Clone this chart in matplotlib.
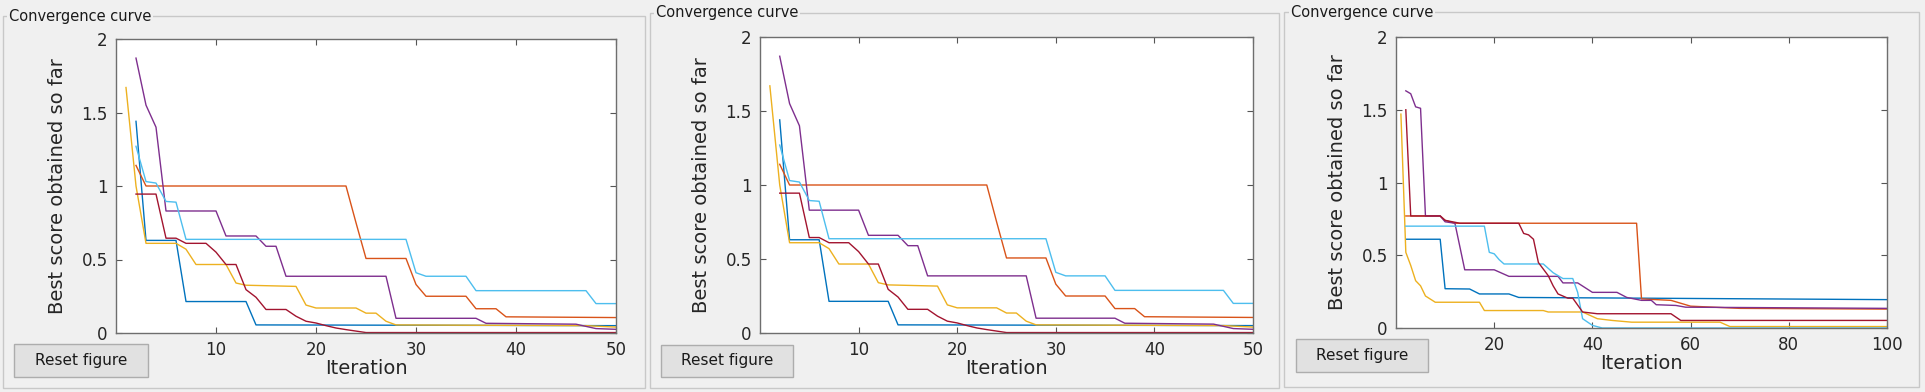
import matplotlib
matplotlib.use("Agg")
import matplotlib.pyplot as plt
from matplotlib.patches import Rectangle

# ---- data: best score per iteration (breakpoints) ----
# panel 1 / panel 2 (50 iterations)
p1_blue_it = [2, 3, 6, 7, 13, 14, 50]
p1_blue = [1.44, 0.63, 0.63, 0.214, 0.214, 0.055, 0.05]
p1_orange_it = [2, 3, 23, 24, 25, 29, 30, 31, 35, 36, 38, 39, 50]
p1_orange = [1.14, 1.0, 1.0, 0.75, 0.507, 0.507, 0.33, 0.25, 0.25, 0.165, 0.165, 0.11, 0.105]
p1_yellow_it = [1, 2, 3, 6, 7, 8, 11, 12, 13, 18, 19, 20, 24, 25, 26, 27, 28, 47, 50]
p1_yellow = [1.67, 1.0, 0.61, 0.61, 0.57, 0.466, 0.466, 0.34, 0.325, 0.317, 0.19, 0.17,
             0.17, 0.135, 0.135, 0.08, 0.055, 0.05, 0.04]
p1_purple_it = [2, 3, 4, 5, 10, 11, 14, 15, 16, 17, 27, 28, 36, 37, 46, 48, 50]
p1_purple = [1.87, 1.55, 1.40, 0.83, 0.83, 0.66, 0.66, 0.59, 0.59, 0.386, 0.386, 0.10,
             0.10, 0.066, 0.06, 0.03, 0.025]
p1_lblue_it = [2, 3, 4, 5, 6, 7, 29, 30, 31, 35, 36, 47, 48, 50]
p1_lblue = [1.27, 1.03, 1.02, 0.895, 0.89, 0.637, 0.637, 0.41, 0.386, 0.386, 0.288, 0.288, 0.20, 0.20]
p1_dred_it = [2, 4, 5, 6, 7, 9, 10, 11, 12, 13, 14, 15, 17, 18, 19, 20, 21, 22, 23, 25, 50]
p1_dred = [0.945, 0.945, 0.645, 0.645, 0.61, 0.61, 0.55, 0.466, 0.466, 0.295, 0.243, 0.16,
           0.16, 0.114, 0.08, 0.068, 0.05, 0.034, 0.023, 0.003, 0.003]

# panel 3 (100 iterations)
p3_blue_it = [2, 9, 10, 15, 17, 23, 25, 100]
p3_blue = [0.61, 0.61, 0.27, 0.268, 0.234, 0.234, 0.21, 0.195]
p3_orange_it = [2, 9, 10, 12, 49, 50, 56, 60, 70, 100]
p3_orange = [0.77, 0.77, 0.74, 0.72, 0.72, 0.20, 0.19, 0.15, 0.135, 0.13]
p3_yellow_it = [1, 2, 3, 4, 5, 6, 8, 17, 18, 30, 31, 38, 41, 44, 48, 66, 68, 100]
p3_yellow = [1.47, 0.52, 0.43, 0.325, 0.29, 0.22, 0.177, 0.177, 0.12, 0.12, 0.11, 0.11,
             0.064, 0.052, 0.04, 0.04, 0.01, 0.01]
p3_purple_it = [2, 3, 4, 5, 6, 9, 10, 12, 14, 20, 23, 33, 34, 37, 40, 45, 47, 50, 52, 53, 57, 59, 100]
p3_purple = [1.63, 1.61, 1.52, 1.51, 0.77, 0.77, 0.73, 0.72, 0.40, 0.40, 0.355, 0.355, 0.31,
             0.31, 0.245, 0.245, 0.21, 0.19, 0.19, 0.16, 0.155, 0.143, 0.135]
p3_lblue_it = [2, 18, 19, 20, 21, 22, 30, 32, 34, 36, 37, 38, 40, 42, 100]
p3_lblue = [0.70, 0.70, 0.52, 0.51, 0.47, 0.44, 0.44, 0.38, 0.34, 0.34, 0.245, 0.064, 0.018, 0.0, 0.0]
p3_dred_it = [2, 3, 9, 10, 13, 25, 26, 27, 28, 29, 31, 32, 33, 35, 36, 38, 41, 56, 58, 100]
p3_dred = [1.5, 0.77, 0.77, 0.74, 0.72, 0.72, 0.65, 0.64, 0.61, 0.45, 0.36, 0.29, 0.234,
           0.205, 0.205, 0.11, 0.098, 0.098, 0.052, 0.052]

colors = ['#0072BD', '#D95319', '#EDB120', '#7E2F8E', '#4DBEEE', '#A2142F']

panel1 = [(p1_blue_it, p1_blue), (p1_orange_it, p1_orange), (p1_yellow_it, p1_yellow),
          (p1_purple_it, p1_purple), (p1_lblue_it, p1_lblue), (p1_dred_it, p1_dred)]
panel3 = [(p3_blue_it, p3_blue), (p3_orange_it, p3_orange), (p3_yellow_it, p3_yellow),
          (p3_purple_it, p3_purple), (p3_lblue_it, p3_lblue), (p3_dred_it, p3_dred)]

W, H = 1925, 392
bg = '#f0f0f0'
txt = '#262626'

fig = plt.figure(figsize=(W / 100, H / 100), dpi=100)
fig.patch.set_facecolor(bg)


def fx(px):
    return px / W


def fy(py):
    return 1 - py / H


def draw_panel(frame, title_xy, axbox, button, series, xmax, xticks):
    # uipanel frame (etched look)
    x0, y0, x1, y1 = frame
    fig.add_artist(Rectangle((fx(x0), fy(y1)), fx(x1 - x0), (y1 - y0) / H,
                             transform=fig.transFigure, fill=False,
                             edgecolor='#c8c8c8', linewidth=1.0))
    fig.text(fx(title_xy[0]), fy(title_xy[1]), 'Convergence curve', fontsize=10.5,
             color='#1a1a1a', ha='left', va='center',
             bbox=dict(facecolor=bg, edgecolor='none', pad=1.5))

    l, t, r, b = axbox
    ax = fig.add_axes([fx(l), fy(b), fx(r - l), (b - t) / H])
    for (it, val), c in zip(series, colors):
        ax.plot(it, val, color=c, linewidth=1.0)
    ax.set_xlim(0, xmax)
    ax.set_ylim(0, 2)
    ax.set_xticks(xticks)
    ax.set_xticklabels([str(v) for v in xticks])
    ax.set_yticks([0, 0.5, 1, 1.5, 2])
    ax.set_yticklabels(['0', '0.5', '1', '1.5', '2'])
    ax.tick_params(direction='in', length=4, width=0.8, colors='#555555',
                   labelcolor=txt, labelsize=12, top=True, right=True, pad=6)
    for s in ax.spines.values():
        s.set_color('#6e6e6e')
        s.set_linewidth(1.0)
    ax.set_xlabel('Iteration', fontsize=14, color=txt, labelpad=0)
    ax.set_ylabel('Best score obtained so far', fontsize=14, color=txt, labelpad=10)

    # "Reset figure" button
    bx0, by0, bx1, by1 = button
    fig.add_artist(Rectangle((fx(bx0), fy(by1)), fx(bx1 - bx0), (by1 - by0) / H,
                             transform=fig.transFigure, facecolor='#e1e1e1',
                             edgecolor='#adadad', linewidth=1.0, zorder=5))
    fig.text(fx((bx0 + bx1) / 2), fy((by0 + by1) / 2), 'Reset figure', fontsize=11,
             color='#1a1a1a', ha='center', va='center', zorder=6)


draw_panel((3, 16, 645, 388), (9, 16), (116, 39, 616, 333), (14, 344, 148, 377),
           panel1, 50, [10, 20, 30, 40, 50])
draw_panel((650, 13, 1279, 388), (656, 13), (760, 37, 1253, 333), (661, 345, 793, 377),
           panel1, 50, [10, 20, 30, 40, 50])
draw_panel((1284, 12, 1919, 387), (1291, 13), (1396, 37, 1887, 328), (1296, 339, 1428, 372),
           panel3, 100, [20, 40, 60, 80, 100])

fig.savefig('out.png', dpi=100, facecolor=bg)
